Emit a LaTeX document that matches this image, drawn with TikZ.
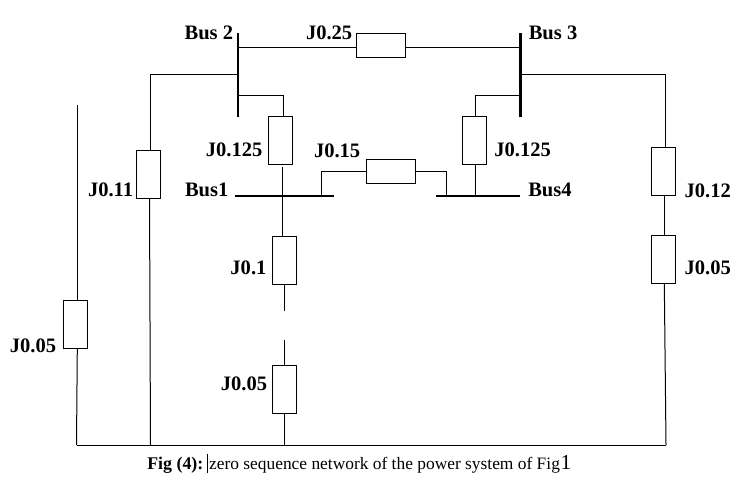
\documentclass[tikz,border=0pt]{standalone}
\usepackage{fontspec}
\setmainfont{Liberation Serif}
\usetikzlibrary{positioning, calc}
\tikzstyle{vbox} = [rectangle, inner sep=0pt, minimum width=18pt, minimum height=36pt, draw=black, line width=0.75pt]
\tikzstyle{hbox} = [rectangle, inner sep=0pt, minimum width=37pt, minimum height=18pt, draw=black, line width=0.75pt]
\tikzstyle{vbus} = [rectangle, inner sep=0pt, minimum width=1.6pt, minimum height=63pt, fill=black]
\tikzstyle{hbus} = [rectangle, inner sep=0pt, minimum height=2pt, fill=black]
\tikzstyle{val} = [inner sep=0pt, text height=10.4pt, text depth=0pt, font=\fontsize{15.4}{15.4}\selectfont\bfseries]
\tikzstyle{wire} = [line width=0.75pt]

\begin{document}
\begin{tikzpicture}[x=0.75pt, y=-0.75pt]
    \useasboundingbox (0,0) rectangle (748,481);

    % buses
    \node (bus2) [vbus] at (238,75) {};
    \node (bus3) [vbus] at (520.5,75) {};
    \node (bus1) [hbus, minimum width=74pt] at (284.25,196) {};
    \node (bus4) [hbus, minimum width=63pt] at (478,196) {};

    % impedances
    \node (z23) [hbox] at (381,45.2) {};
    \node (z14) [hbox] at (391,171.4) {};
    \node (z12) [vbox] at (280.5,140.5) {};
    \node (z34) [vbox] at (474.5,140.5) {};
    \node (z2g) [vbox] at (148.5,174.5) {};
    \node (z3g) [vbox] at (663.5,171.4) {};
    \node (z3n) [vbox] at (663.5,259.2) {};
    \node (z1a) [vbox] at (284.5,260.4) {};
    \node (z1b) [vbox] at (284.5,389.3) {};
    \node (zl) [vbox] at (75.5,324.5) {};

    % labels
    \node (lz23) [val, left=2.5pt of z23, yshift=9.75pt] {J0.25};
    \node (lz14) [val, left=4pt of z14, yshift=16pt] {J0.15};
    \node (lz12) [val, left=4pt of z12, yshift=-7pt] {J0.125};
    \node (lz34) [val, right=5.3pt of z34, yshift=-7pt] {J0.125};
    \node (lz2g) [val, left=2pt of z2g, yshift=-11.6pt] {J0.11};
    \node (lz3g) [val, right=6.3pt of z3g, yshift=-14pt] {J0.12};
    \node (lz3n) [val, right=6.3pt of z3n, yshift=-6pt] {J0.05};
    \node (lz1a) [val, left=4pt of z1a, yshift=-5pt] {J0.1};
    \node (lz1b) [val, left=3.5pt of z1b, yshift=4pt] {J0.05};
    \node (lzl) [val, left=5pt of zl, yshift=-16pt] {J0.05};
    \node (lbus2) [val, left=2.5pt of bus2, yshift=32pt] {Bus 2};
    \node (lbus3) [val, right=5pt of bus3, yshift=32pt] {Bus 3};
    \node (lbus1) [val, left=4.5pt of bus1, yshift=4.5pt] {Bus1};
    \node (lbus4) [val, right=5.8pt of bus4, yshift=4.5pt] {Bus4};

    \node (cap) [inner sep=0pt, anchor=base west, font=\fontsize{13.05}{13.05}\selectfont] at (147,469) {{\fontsize{13.4}{13.4}\selectfont\textbf{Fig (4):}} zero sequence network of the power system of Fig\hspace{0.6pt}{\fontsize{16}{16}\selectfont 1}};

    % free ends and tap points
    \coordinate (t2a) at (238,48);
    \coordinate (t3a) at (520.5,48);
    \coordinate (t2b) at (238,74.5);
    \coordinate (t3b) at (520.5,74.5);
    \coordinate (t2c) at (238,95.5);
    \coordinate (t3c) at (520.5,95.5);
    \coordinate (n2g) at (150.5,150.5);
    \coordinate (n3g) at (665.7,147.3);
    \coordinate (n12) at (283.5,117);
    \coordinate (n34) at (475.3,117);
    \coordinate (n12b) at (282.5,167);
    \coordinate (n1a) at (282.5,236.5);
    \coordinate (n1c) at (284.5,311);
    \coordinate (n1d) at (284.5,340);
    \coordinate (t1) at (321.5,196);
    \coordinate (t4) at (446.3,196);
    \coordinate (n34a) at (475.3,164.5);
    \coordinate (n34b) at (475.3,196);
    \coordinate (n2h) at (149.5,198.5);
    \coordinate (n3h) at (664.3,195.5);
    \coordinate (n3i) at (664.3,235);
    \coordinate (n3j) at (664.3,283.5);
    \coordinate (nl) at (77.5,105.5);
    \coordinate (nla) at (77.5,300.5);
    \coordinate (nlb) at (77.3,348.5);
    \coordinate (g1) at (76.5,445);
    \coordinate (g2) at (150.5,445);
    \coordinate (g3) at (284.5,445);
    \coordinate (g4) at (666,445);

    \draw [wire] (t2a) -- (z23.west |- t2a);
    \draw [wire] (z23.east |- t3a) -- (t3a);
    \draw [wire] (t2b) -| (n2g);
    \draw [wire] (t3b) -| (n3g);
    \draw [wire] (t2c) -| (n12);
    \draw [wire] (t3c) -| (n34);
    \draw [wire] (n12b) -- (n1a);
    \draw [wire] (n34a) -- (n34b);
    \draw [wire] (z14.west) -| (t1);
    \draw [wire] (z14.east) -| (t4);
    \draw [wire] (z1a.south) -- (n1c);
    \draw [wire] (n1d) -- (z1b.north);
    \draw [wire] (z1b.south) -- (g3);
    \draw [wire] (n2h) -- (g2);
    \draw [wire] (n3h) -- (n3i);
    \draw [wire] (n3j) -- (g4);
    \draw [wire] (nl) -- (nla);
    \draw [wire] (nlb) -- (g1);
    \draw [wire] (g1) -- (g4);

    % cursor mark in the caption
    \coordinate (ct) at (207.5,453.5);
    \coordinate (cb) at (207.5,473);
    \draw [line width=0.5pt] (ct) -- (cb);
\end{tikzpicture}
\end{document}
